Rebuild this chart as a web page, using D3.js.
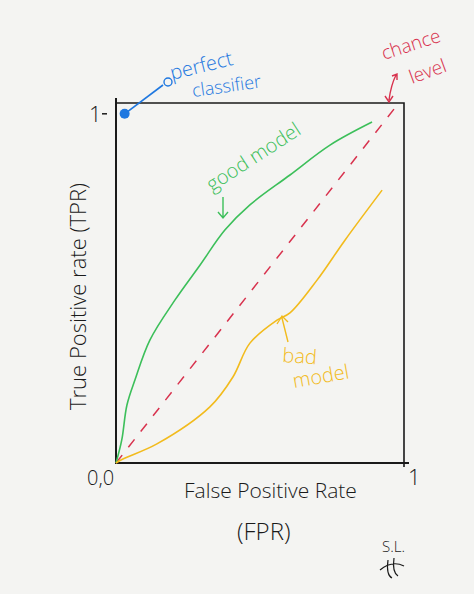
<!DOCTYPE html>
<html><head><meta charset="utf-8">
<script src="https://cdn.jsdelivr.net/npm/d3@7"></script>
<style>body{margin:0;background:#f4f4f2}svg{display:block}text{font-family:"Open Sans",sans-serif;font-weight:300}</style>
</head><body><div id="chart"></div>
<script>
var goodFpr = [0, 0.02, 0.038, 0.066, 0.118, 0.205, 0.292, 0.378, 0.465, 0.604, 0.743, 0.889];
var goodTpr = [0, 0.064, 0.161, 0.231, 0.342, 0.453, 0.55, 0.647, 0.717, 0.8, 0.883, 0.947];
var badFpr = [0, 0.024, 0.142, 0.326, 0.406, 0.465, 0.559, 0.604, 0.698, 0.795, 0.924];
var badTpr = [0, 0.011, 0.053, 0.156, 0.239, 0.333, 0.397, 0.417, 0.508, 0.619, 0.758];
var chance = [[0, 0], [0.976, 0.994]];
var perfect = [0.03, 0.97];

var W = 474, H = 594;
var svg = d3.select('#chart').append('svg').attr('width', W).attr('height', H);
svg.append('rect').attr('width', W).attr('height', H).attr('fill', '#f4f4f2');

var x = d3.scaleLinear().domain([0, 1]).range([116, 404]);
var y = d3.scaleLinear().domain([0, 1]).range([463, 103]);
var line = d3.line().x(function(d) { return x(d[0]); }).y(function(d) { return y(d[1]); }).curve(d3.curveCatmullRom);

// frame
svg.append('path').attr('fill', 'none').attr('stroke', '#1a1a1a').attr('stroke-width', 2)
  .attr('d', 'M' + x(0) + ',' + (y(1) - 5) + 'V' + y(0) + 'H' + (x(1) + 5));
svg.append('path').attr('fill', 'none').attr('stroke', '#1a1a1a').attr('stroke-width', 1.6)
  .attr('d', 'M' + x(0) + ',' + y(1) + 'H' + x(1) + 'V' + (y(0) + 4));
svg.append('line').attr('x1', 102).attr('x2', 107).attr('y1', y(0.97)).attr('y2', y(0.97))
  .attr('stroke', '#1a1a1a').attr('stroke-width', 1.5);

svg.append('path').datum(chance).attr('d', d3.line().x(function(d) { return x(d[0]); }).y(function(d) { return y(d[1]); }))
  .attr('fill', 'none').attr('stroke', '#d8324e').attr('stroke-width', 1.5).attr('stroke-dasharray', '10,10');
svg.append('path').datum(d3.zip(goodFpr, goodTpr)).attr('d', line)
  .attr('fill', 'none').attr('stroke', '#3cbf5a').attr('stroke-width', 1.6);
svg.append('path').datum(d3.zip(badFpr, badTpr)).attr('d', line)
  .attr('fill', 'none').attr('stroke', '#f2bb1d').attr('stroke-width', 1.6);

svg.append('circle').attr('cx', x(perfect[0])).attr('cy', y(perfect[1])).attr('r', 5).attr('fill', '#1f78e0');
svg.append('line').attr('x1', x(perfect[0])).attr('y1', y(perfect[1])).attr('x2', 163).attr('y2', 85)
  .attr('stroke', '#1f78e0').attr('stroke-width', 1.6);
svg.append('circle').attr('cx', 168).attr('cy', 82).attr('r', 4).attr('fill', 'none').attr('stroke', '#1f78e0').attr('stroke-width', 1.4);

function label(t, px, py, color, size, rot) {
  var el = svg.append('text').attr('x', px).attr('y', py).attr('fill', color).attr('font-size', size).text(t);
  if (rot) el.attr('transform', 'rotate(' + rot + ',' + px + ',' + py + ')');
  return el;
}
label('perfect', 172, 80, '#1f78e0', 20, -14);
label('classifier', 193, 97, '#1f78e0', 18, -8);
label('chance', 384, 60, '#d8324e', 19, -18);
label('level', 412, 84, '#d8324e', 19, -20);
svg.append('path').attr('fill', 'none').attr('stroke', '#d8324e').attr('stroke-width', 1.4)
  .attr('d', 'M396,75 Q391,85 389,100 M385,96 L389,102 L393,96 M392,76 L397,74 L397,80');
label('good model', 212, 192, '#3cbf5a', 20, -33);
svg.append('path').attr('fill', 'none').attr('stroke', '#3cbf5a').attr('stroke-width', 1.4)
  .attr('d', 'M223,197 V217 M218,212 L223,218 L228,212');
label('bad', 282, 362, '#f2bb1d', 20, 4);
label('model', 294, 388, '#f2bb1d', 20, -10);
svg.append('path').attr('fill', 'none').attr('stroke', '#f2bb1d').attr('stroke-width', 1.4)
  .attr('d', 'M288,342 L282,318 M277,324 L282,316 L288,322');

label('1', 89, 122, '#1a1a1a', 22);
label('0,0', 87, 485, '#1a1a1a', 20);
label('1', 408, 485, '#1a1a1a', 22);
label('False Positive Rate', 184, 498, '#1a1a1a', 21);
label('(FPR)', 237, 540, '#1a1a1a', 24);
label('True Positive rate (TPR)', 86, 410, '#1a1a1a', 22, -90);
label('S.L.', 382, 552, '#1a1a1a', 15);
svg.append('path').attr('fill', 'none').attr('stroke', '#1a1a1a').attr('stroke-width', 1.2)
  .attr('d', 'M380,570 Q392,560 404,566 M388,560 Q386,575 392,578 M394,558 Q392,572 398,576');
</script></body></html>
